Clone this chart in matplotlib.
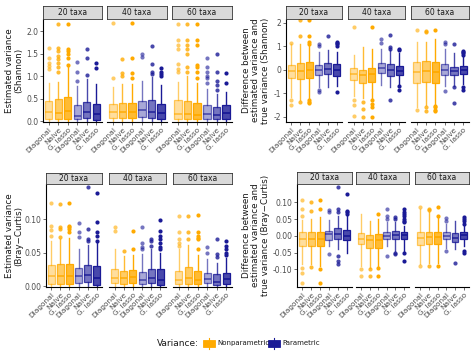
import matplotlib
matplotlib.use('Agg')
import matplotlib.pyplot as plt
from matplotlib.colors import to_rgba
from matplotlib.patches import Rectangle
from matplotlib.lines import Line2D

plt.rcParams['font.family'] = ['DejaVu Sans']

W, H = 474, 355

TAXA = ['20 taxa', '40 taxa', '60 taxa']
METHODS = ['Diagonal', 'Naive', 'G. lasso']
VARIANCE = ['Nonparametric', 'Parametric']

# each row = one taxa facet; columns = NP Diagonal, NP Naive, NP G. lasso, P Diagonal, P Naive, P G. lasso
# --- Shannon, estimated variance ---
SH_EST_Q1 = [[0.05, 0.05, 0.05, 0.04, 0.07, 0.02],
             [0.07, 0.07, 0.07, 0.10, 0.06, 0.04],
             [0.05, 0.05, 0.05, 0.05, 0.04, 0.05]]
SH_EST_MED = [[0.20, 0.19, 0.22, 0.11, 0.20, 0.15],
              [0.20, 0.20, 0.20, 0.24, 0.20, 0.17],
              [0.15, 0.15, 0.14, 0.15, 0.13, 0.19]]
SH_EST_Q3 = [[0.44, 0.50, 0.54, 0.35, 0.43, 0.37],
             [0.37, 0.41, 0.41, 0.45, 0.46, 0.37],
             [0.46, 0.45, 0.41, 0.35, 0.32, 0.35]]
SH_EST_LO = [[0.0, 0.0, 0.0, 0.0, 0.0, 0.0],
             [0.0, 0.0, 0.0, 0.0, 0.0, 0.0],
             [0.0, 0.0, 0.0, 0.0, 0.0, 0.0]]
SH_EST_HI = [[0.85, 0.88, 1.2, 0.77, 0.93, 0.82],
             [0.75, 0.83, 0.83, 0.90, 0.97, 0.80],
             [0.87, 1.00, 0.85, 0.72, 0.60, 0.65]]
SH_EST_OUT = [[[1.15, 1.22, 1.3, 1.4, 1.62], [1.1, 1.2, 1.3, 1.37, 1.45, 1.55, 1.63, 2.15],
               [1.25, 1.4, 1.5, 1.55, 1.6, 2.15], [0.9, 1.1, 1.32], [1.02, 1.4, 1.6], [1.17, 1.3]],
              [[0.95, 2.17], [1.0, 1.08, 1.38], [0.95, 1.08, 1.4, 2.17], [1.42, 1.5],
               [1.05, 1.1, 1.27, 1.67], [1.0, 1.04, 1.1, 1.17]],
              [[1.1, 1.15, 1.27, 1.6, 1.7, 1.8, 2.15], [1.1, 1.2, 1.5, 1.6, 1.7, 1.8, 2.15],
               [0.95, 1.1, 1.2, 1.25, 1.7, 1.8, 2.15], [0.85, 0.95, 1.0, 1.1, 1.2, 1.4],
               [0.7, 0.8, 0.9, 1.1, 1.5], [0.85, 1.07]]]

# --- Shannon, estimated minus true variance ---
SH_DIF_Q1 = [[-0.33, -0.41, -0.33, -0.23, -0.18, -0.27],
             [-0.44, -0.55, -0.50, -0.13, -0.27, -0.23],
             [-0.55, -0.50, -0.55, -0.23, -0.23, -0.18]]
SH_DIF_MED = [[-0.04, -0.04, -0.02, 0.0, 0.05, 0.0],
              [-0.16, -0.23, -0.18, 0.08, 0.01, -0.03],
              [-0.08, -0.06, -0.08, -0.01, -0.06, -0.01]]
SH_DIF_Q3 = [[0.20, 0.27, 0.34, 0.20, 0.27, 0.24],
             [0.06, 0.01, 0.06, 0.27, 0.24, 0.15],
             [0.34, 0.37, 0.34, 0.23, 0.13, 0.16]]
SH_DIF_LO = [[-1.15, -1.3, -1.25, -0.75, -0.75, -0.7],
             [-1.1, -1.2, -1.2, -0.65, -0.75, -0.6],
             [-1.6, -1.5, -1.5, -0.7, -0.7, -0.6]]
SH_DIF_HI = [[1.1, 1.1, 1.0, 0.75, 0.85, 0.75],
             [0.62, 0.95, 0.9, 0.9, 0.85, 0.7],
             [1.2, 1.2, 1.3, 0.9, 0.7, 0.6]]
SH_DIF_OUT = [[[1.12, -1.3, -1.5], [1.45, 2.1, -1.35], [1.1, 1.2, 1.45, 2.1, -1.3, -1.35, -1.4],
               [1.0, 1.1, -0.85, -0.95], [1.45], [1.0, 1.1, 1.15, 1.2, -0.95]],
              [[1.8, -1.3, -1.5, -1.95], [-1.35, -1.65, -2.0], [1.8, -1.3, -1.45, -1.6, -2.0],
               [1.15, 1.3], [0.9, 0.95, 1.5, -1.3], [0.85, 0.9, -0.7, -0.85]],
              [[1.7, -1.7], [1.6, 1.65, -1.6, -1.75], [1.7, -1.55, -1.6, -1.7, -1.75],
               [1.1, 1.2, -0.9], [1.1, -0.75, -1.4], [0.65, 0.7, 0.75, 0.8, -0.75, -0.85]]]

# --- Bray-Curtis, estimated variance ---
BC_EST_Q1 = [[0.004, 0.004, 0.004, 0.005, 0.006, 0.002],
             [0.0045, 0.004, 0.0045, 0.003, 0.005, 0.002],
             [0.004, 0.004, 0.003, 0.0045, 0.0015, 0.003]]
BC_EST_MED = [[0.015, 0.016, 0.016, 0.015, 0.017, 0.012],
              [0.013, 0.013, 0.014, 0.010, 0.013, 0.010],
              [0.010, 0.012, 0.010, 0.011, 0.0065, 0.011]]
BC_EST_Q3 = [[0.031, 0.0325, 0.0335, 0.027, 0.031, 0.030],
             [0.026, 0.023, 0.024, 0.021, 0.026, 0.025],
             [0.023, 0.028, 0.023, 0.020, 0.018, 0.020]]
BC_EST_LO = [[0.0, 0.0, 0.0, 0.0, 0.0, 0.0],
             [0.0, 0.0, 0.0, 0.0, 0.0, 0.0],
             [0.0, 0.0, 0.0, 0.0, 0.0, 0.0]]
BC_EST_HI = [[0.067, 0.070, 0.072, 0.055, 0.062, 0.065],
             [0.055, 0.045, 0.046, 0.048, 0.055, 0.050],
             [0.055, 0.062, 0.046, 0.040, 0.035, 0.042]]
BC_EST_OUT = [[[0.075, 0.083, 0.09, 0.124], [0.073, 0.085, 0.088, 0.122], [0.08, 0.085, 0.088, 0.09, 0.124],
               [0.074, 0.08, 0.094], [0.067, 0.07, 0.085, 0.148], [0.068, 0.075, 0.08, 0.096, 0.138]],
              [[0.082, 0.088], [0.053], [0.056, 0.082], [0.055, 0.058, 0.064, 0.088],
               [0.06, 0.068, 0.071], [0.055, 0.058, 0.065, 0.07, 0.075, 0.082, 0.098]],
              [[0.06, 0.065, 0.07, 0.08, 0.105], [0.07, 0.08, 0.104], [0.055, 0.07, 0.072, 0.075, 0.08, 0.106],
               [0.05, 0.058], [0.043, 0.048, 0.071], [0.046, 0.05, 0.055, 0.06, 0.068]]]

# --- Bray-Curtis, estimated minus true variance ---
BC_DIF_Q1 = [[-0.031, -0.031, -0.031, -0.011, -0.008, -0.011],
             [-0.025, -0.035, -0.035, -0.008, -0.008, -0.008],
             [-0.027, -0.025, -0.025, -0.008, -0.018, -0.008]]
BC_DIF_MED = [[-0.010, -0.008, -0.008, 0.004, 0.005, 0.0],
              [-0.010, -0.013, -0.011, 0.0, 0.002, 0.002],
              [-0.007, -0.003, -0.003, 0.0, -0.005, 0.002]]
BC_DIF_Q3 = [[0.012, 0.012, 0.012, 0.015, 0.022, 0.017],
             [0.009, 0.002, 0.004, 0.012, 0.015, 0.010],
             [0.012, 0.012, 0.012, 0.012, 0.007, 0.012]]
BC_DIF_LO = [[-0.085, -0.085, -0.09, -0.03, -0.04, -0.05],
             [-0.09, -0.095, -0.09, -0.03, -0.045, -0.045],
             [-0.085, -0.08, -0.08, -0.035, -0.04, -0.03]]
BC_DIF_HI = [[0.048, 0.05, 0.055, 0.047, 0.06, 0.06],
             [0.065, 0.045, 0.05, 0.04, 0.04, 0.03],
             [0.08, 0.07, 0.055, 0.035, 0.045, 0.03]]
BC_DIF_OUT = [[[0.06, 0.08, 0.105, -0.095, -0.11, -0.14], [0.075, 0.1, -0.093], [0.08, 0.105, -0.1, -0.14],
               [0.07, 0.078, -0.055], [0.07, 0.08, 0.145, -0.06, -0.075, -0.085], [0.065, 0.07, 0.075, 0.125]],
              [[-0.1, -0.12], [-0.1, -0.12], [0.065, -0.095, -0.12], [0.05, 0.06, 0.08, -0.06],
               [0.05, 0.055, -0.05, -0.055], [0.04, 0.045, 0.05, 0.06, 0.065, 0.07, 0.08, -0.05, -0.075]],
              [[0.085, -0.09], [0.078, 0.08, -0.09], [0.06, 0.085, -0.09], [0.045, 0.053, -0.045],
               [-0.08], [0.035, 0.045, 0.05, 0.055, -0.045, -0.05]]]

COLORS = {'Nonparametric': '#FFAA00', 'Parametric': '#1A1A96'}
FILL_ALPHA = [0.38, 0.6, 0.8]
LINE_ALPHA = [0.6, 0.8, 1.0]

fig = plt.figure(figsize=(W / 100, H / 100), dpi=100)


def px_axes(x0, x1, ytop, ybot):
    return fig.add_axes([x0 / W, 1 - ybot / H, (x1 - x0) / W, (ybot - ytop) / H])


PANELS = [
    dict(data=(SH_EST_Q1, SH_EST_MED, SH_EST_Q3, SH_EST_LO, SH_EST_HI, SH_EST_OUT),
         xs=[(43, 102), (107, 167), (172, 232)], strip=(6, 19), bottom=122,
         ylim=(-0.02, 2.27), yticks=[0, 0.5, 1.0, 1.5, 2.0], fmt='{:.1f}',
         ylabel='Estimated variance\n(Shannon)', labx=14),
    dict(data=(SH_DIF_Q1, SH_DIF_MED, SH_DIF_Q3, SH_DIF_LO, SH_DIF_HI, SH_DIF_OUT),
         xs=[(286, 342), (348, 405), (411, 469)], strip=(6, 19), bottom=122,
         ylim=(-2.22, 2.16), yticks=[-2, -1, 0, 1, 2], fmt='{:.0f}',
         ylabel='Difference between\nestimated variance and\ntrue variance (Shannon)', labx=256),
    dict(data=(BC_EST_Q1, BC_EST_MED, BC_EST_Q3, BC_EST_LO, BC_EST_HI, BC_EST_OUT),
         xs=[(46, 102), (109, 166), (173, 232)], strip=(173, 184), bottom=287,
         ylim=(-0.001, 0.152), yticks=[0, 0.05, 0.10], fmt='{:.2f}',
         ylabel='Estimated variance\n(Bray\u2212Curtis)', labx=14),
    dict(data=(BC_DIF_Q1, BC_DIF_MED, BC_DIF_Q3, BC_DIF_LO, BC_DIF_HI, BC_DIF_OUT),
         xs=[(297, 352), (356, 409), (415, 469)], strip=(172, 184), bottom=287,
         ylim=(-0.152, 0.154), yticks=[-0.10, -0.05, 0, 0.05, 0.10], fmt='{:.2f}',
         ylabel='Difference between\nestimated variance and\ntrue variance (Bray\u2212Curtis)', labx=256),
]

TICK_COL = '#4D4D4D'

for p in PANELS:
    q1, med, q3, lo, hi, out = p['data']
    s_top, s_bot = p['strip']
    for f, (x0, x1) in enumerate(p['xs']):
        ax = px_axes(x0, x1, s_bot, p['bottom'])
        for i in range(6):
            var = VARIANCE[i // 3]
            m = i % 3
            col = COLORS[var]
            fc = to_rgba(col, FILL_ALPHA[m])
            lc = to_rgba(col, LINE_ALPHA[m])
            stats = [dict(med=med[f][i], q1=q1[f][i], q3=q3[f][i],
                          whislo=lo[f][i], whishi=hi[f][i], fliers=out[f][i])]
            bp = ax.bxp(stats, positions=[i + 1], widths=0.78, patch_artist=True,
                        manage_ticks=False)
            for b in bp['boxes']:
                b.set_facecolor(fc)
                b.set_edgecolor(lc)
                b.set_linewidth(0.9)
            for ln in bp['whiskers']:
                ln.set_color(lc)
                ln.set_linewidth(1.0)
            for ln in bp['caps']:
                ln.set_visible(False)
            for ln in bp['medians']:
                ln.set_color(lc)
                ln.set_linewidth(1.3)
            for ln in bp['fliers']:
                ln.set_marker('o')
                ln.set_markersize(3.0)
                ln.set_markerfacecolor(lc)
                ln.set_markeredgecolor('none')
        ax.set_xlim(0.4, 6.6)
        ax.set_ylim(*p['ylim'])
        ax.set_xticks(range(1, 7))
        ax.set_xticklabels(METHODS * 2, rotation=45, ha='right', va='top',
                           rotation_mode='anchor', fontsize=5.3, color=TICK_COL)
        for s in ['top', 'right']:
            ax.spines[s].set_visible(False)
        ax.spines['bottom'].set_linewidth(0.8)
        ax.spines['left'].set_linewidth(0.8)
        ax.tick_params(length=2, width=0.5, color='#333333', pad=1.5)
        ax.set_yticks(p['yticks'])
        if f == 0:
            ax.set_yticklabels([p['fmt'].format(v) for v in p['yticks']], fontsize=5.5, color=TICK_COL)
        else:
            ax.spines['left'].set_visible(False)
            ax.tick_params(axis='y', left=False, labelleft=False)
        # strip
        sax = px_axes(x0, x1, s_top, s_bot)
        sax.set_xticks([])
        sax.set_yticks([])
        sax.set_facecolor('#D9D9D9')
        for s in sax.spines.values():
            s.set_linewidth(0.6)
            s.set_color('#333333')
        sax.text(0.5, 0.5, TAXA[f], ha='center', va='center', fontsize=5.5,
                 color='#1A1A1A', transform=sax.transAxes)
    yc = (s_bot + p['bottom']) / 2
    fig.text(p['labx'] / W, 1 - yc / H, p['ylabel'], rotation=90, ha='center', va='center',
             multialignment='center', fontsize=6.3, color='#1A1A1A', linespacing=1.05)

# legend
ly = 1 - 343 / H
fig.text(157 / W, ly, 'Variance:', ha='left', va='center', fontsize=6.5, color='#1A1A1A')
for x0, var, tx in [(203, 'Nonparametric', 217), (268, 'Parametric', 282)]:
    col = COLORS[var]
    fig.add_artist(Line2D([(x0 + 6) / W, (x0 + 6) / W], [1 - 348.5 / H, 1 - 337.5 / H],
                          color=col, linewidth=0.8, transform=fig.transFigure))
    fig.add_artist(Rectangle((x0 / W, 1 - 346.5 / H), 12 / W, 7 / H, facecolor=col,
                             edgecolor=col, linewidth=0.6, transform=fig.transFigure))
    fig.text(tx / W, ly, var, ha='left', va='center', fontsize=5, color='#1A1A1A')

fig.savefig('out.png', dpi=100)
